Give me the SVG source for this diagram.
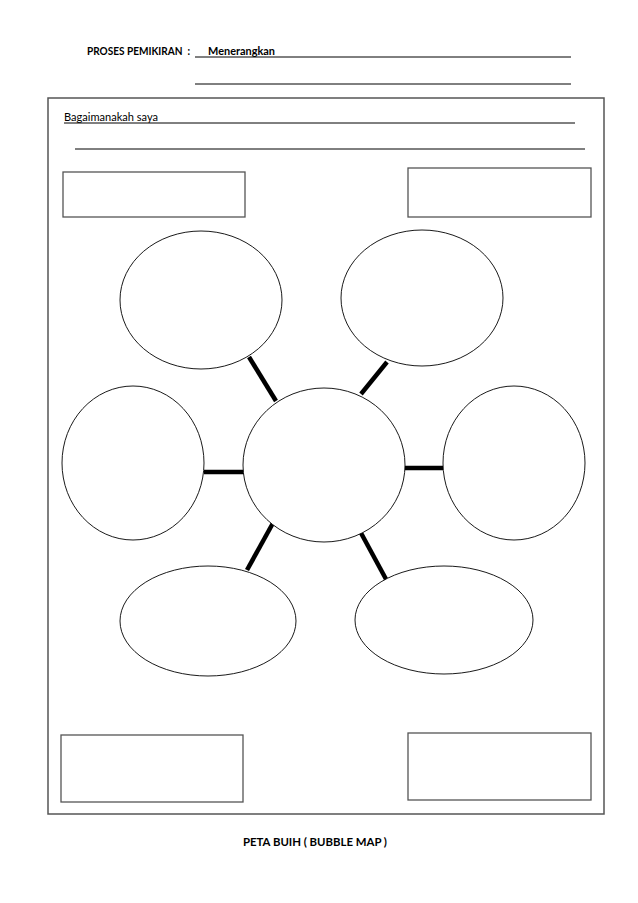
<svg xmlns="http://www.w3.org/2000/svg" width="638" height="903" viewBox="0 0 638 903">
<style>
.t{font-family:Lato,"Liberation Sans",sans-serif;font-size:12px;fill:#000}
.b{font-weight:bold}
.rule{stroke:#000;stroke-width:1}
.box{fill:#fff;stroke:#555;stroke-width:1.3}
.bub{fill:#fff;stroke:#000;stroke-width:0.9}
.con{stroke:#000;stroke-width:4.5;stroke-linecap:butt}
</style>
<rect width="638" height="903" fill="#fff"/>
<g id="header">
<text class="t b" x="87" y="55" textLength="103" lengthAdjust="spacingAndGlyphs" xml:space="preserve">PROSES PEMIKIRAN  :</text>
<text class="t b" x="208" y="55" textLength="67" lengthAdjust="spacingAndGlyphs">Menerangkan</text>
<line class="rule" x1="195" y1="57" x2="571" y2="57"/>
<line class="rule" x1="195" y1="84" x2="571" y2="84"/>
</g>
<rect id="frame" x="48" y="98" width="556" height="716" fill="none" stroke="#555" stroke-width="1.5"/>
<g id="question">
<text class="t" x="64" y="121" textLength="94" lengthAdjust="spacingAndGlyphs">Bagaimanakah saya</text>
<line class="rule" x1="64" y1="123" x2="575" y2="123"/>
<line class="rule" x1="75" y1="149" x2="585" y2="149"/>
</g>
<g id="box-top-left"><rect class="box" x="63" y="172" width="182" height="45"/></g>
<g id="box-top-right"><rect class="box" x="408" y="168" width="183" height="49"/></g>
<g id="box-bottom-left"><rect class="box" x="61" y="735" width="182" height="67"/></g>
<g id="box-bottom-right"><rect class="box" x="408" y="733" width="183" height="67"/></g>
<g id="connectors">
<line class="con" x1="249" y1="357" x2="276" y2="401"/>
<line class="con" x1="387" y1="362" x2="361" y2="394"/>
<line class="con" x1="204" y1="472" x2="244" y2="472"/>
<line class="con" x1="405" y1="468" x2="443" y2="468"/>
<line class="con" x1="273" y1="523" x2="247" y2="570"/>
<line class="con" x1="361" y1="533" x2="387" y2="581"/>
</g>
<g id="bubble-center"><ellipse class="bub" cx="324" cy="465" rx="81" ry="77"/></g>
<g id="bubble-top-left"><ellipse class="bub" cx="201" cy="300" rx="81" ry="69"/></g>
<g id="bubble-top-right"><ellipse class="bub" cx="422" cy="298" rx="81" ry="68"/></g>
<g id="bubble-left"><ellipse class="bub" cx="133" cy="463" rx="71" ry="77"/></g>
<g id="bubble-right"><ellipse class="bub" cx="514" cy="463" rx="71" ry="77"/></g>
<g id="bubble-bottom-left"><ellipse class="bub" cx="208" cy="621" rx="88" ry="55"/></g>
<g id="bubble-bottom-right"><ellipse class="bub" cx="444" cy="620" rx="89" ry="54"/></g>
<g id="footer">
<text class="t b" x="243" y="846" textLength="144" lengthAdjust="spacingAndGlyphs">PETA BUIH ( BUBBLE MAP )</text>
</g>
</svg>
